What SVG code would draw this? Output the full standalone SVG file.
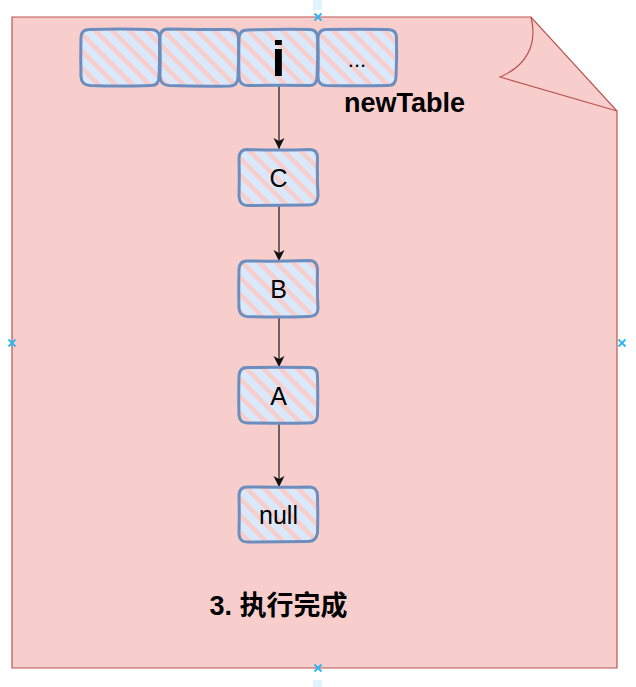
<svg xmlns="http://www.w3.org/2000/svg" width="636" height="687" viewBox="0 0 636 687">
<style>
.n{fill:url(#h);stroke:#6c8ebf;stroke-width:3;stroke-linejoin:round;stroke-linecap:round}
.t{font-family:"Liberation Sans",Arial,sans-serif;font-size:25px;text-anchor:middle;fill:#000}
.b{font-family:"Liberation Sans","Noto Sans CJK SC",sans-serif;font-weight:bold;text-anchor:middle;fill:#000}
.c{stroke:#333;stroke-width:1.4;fill:none;marker-end:url(#a)}
.x{stroke:#29b6f2;stroke-width:1.8;fill:none}
</style>
<defs>
<pattern id="h" width="17" height="17" patternUnits="userSpaceOnUse" patternTransform="rotate(-45 0 0) scale(0.7071)">
<rect width="17" height="17" fill="#f8cecc"/>
<rect width="10.500" height="17" fill="#dae8fc"/>
</pattern>
<marker id="a" markerWidth="14" markerHeight="14" refX="11" refY="6" orient="auto" markerUnits="userSpaceOnUse">
<path d="M0 .5L11 6L0 11.500L3 6Z" fill="#111"/>
</marker>
</defs>
<rect x="313" y="0" width="9" height="10" fill="#e1f3fe"/>
<rect x="313" y="680" width="9" height="7" fill="#e1f3fe"/>
<g id="page">
<path d="M12 17H531L617 111V668H12Z" fill="#f8cecc" stroke="#b85450" stroke-width="1.2"/>
<path d="M531 17C538 45 526 66 500 77L617 111" fill="none" stroke="#b85450" stroke-width="1.2"/>
</g>
<g id="connectors">
<path class="c" d="M279 86V149"/>
<path class="c" d="M279 205V261"/>
<path class="c" d="M279 317V367"/>
<path class="c" d="M279 423V487"/>
</g>
<g id="cell1"><path class="n" d="M89 29.500Q120 28.500 151 29.500Q159.500 29.500 159.500 38Q160 58 159 77Q159 85.500 151 85.500Q120 86.500 90 85.500Q81.500 85 81 77Q80.500 58 81 37Q81.500 29.500 89 29.500Z"/></g>
<g id="cell2"><path class="n" d="M168 29Q200 29.500 230 29.500Q238.500 30 238.500 38Q239 58 238 77Q238 85.500 230 86Q200 86.500 169 85.500Q160.500 85 160 77Q160.500 58 160 37Q160.500 29 168 29Z"/></g>
<g id="cell3"><path class="n" d="M247 30Q278 29 310 29.500Q317.500 30 317.500 38Q318 58 317 77Q317 85 310 85.500Q278 85 247 85.500Q239.500 85 239 77Q238.500 58 239 38Q239.500 30 247 30Z"/><text class="b" x="278.500" y="76" font-size="50">i</text></g>
<g id="cell4"><path class="n" d="M326 29.500Q358 29 388 29.500Q396.500 29.500 396.500 38Q397 58 396 77Q396 85.500 388 85.500Q358 86 326 85.500Q318 85 318 77Q318.500 58 318 38Q318.500 29.500 326 29.500Z"/><text class="t" x="357" y="67" style="font-size:22px">...</text></g>
<g id="label-newTable"><text class="b" x="404.500" y="112" font-size="27">newTable</text></g>
<g id="nodeC"><path class="n" d="M247 149.500Q278 150.500 310 149.500Q317.500 149.500 317.500 158Q317 178 318 196Q317.500 205 309 205Q278 205.500 247 205.500Q239.500 205 239 196Q239.500 178 239 158Q239.500 149.500 247 149.500Z"/><text class="t" x="278.500" y="187">C</text></g>
<g id="nodeB"><path class="n" d="M247 261Q278 261.500 310 260.500Q317 261 317.500 269Q317 290 318 309Q317.500 316.500 309 316.500Q278 317.500 247 316.500Q239.500 316 239 308Q238.500 290 239 269Q239.500 261 247 261Z"/><text class="t" x="278.500" y="298">B</text></g>
<g id="nodeA"><path class="n" d="M247 367.500Q278 367 310 367.500Q317.500 367.500 317.500 376Q318 396 317.500 415Q317.500 423 309 423Q278 423.500 247 423Q239.500 422.500 239 415Q238.500 396 239 376Q239.500 367.500 247 367.500Z"/><text class="t" x="278.500" y="405">A</text></g>
<g id="nodeNull"><path class="n" d="M247 487Q278 487.500 310 487Q317.500 487.500 317.500 496Q318 515 317.500 533Q316 541.500 308 541.500Q278 542 247 542Q239.500 542 239 534Q239.500 515 239 495Q239.500 487 247 487Z"/><text class="t" x="278.500" y="524">null</text></g>
<g id="caption"><text class="b" x="278.500" y="615" font-size="27">3. 执行完成</text></g>
<g id="marks">
<path class="x" d="M314.500 13.500l7 7m0-7l-7 7"/>
<path class="x" d="M8.500 339.500l7 7m0-7l-7 7"/>
<path class="x" d="M618.500 339.500l7 7m0-7l-7 7"/>
<path class="x" d="M314.500 664.500l7 7m0-7l-7 7"/>
</g>
</svg>
